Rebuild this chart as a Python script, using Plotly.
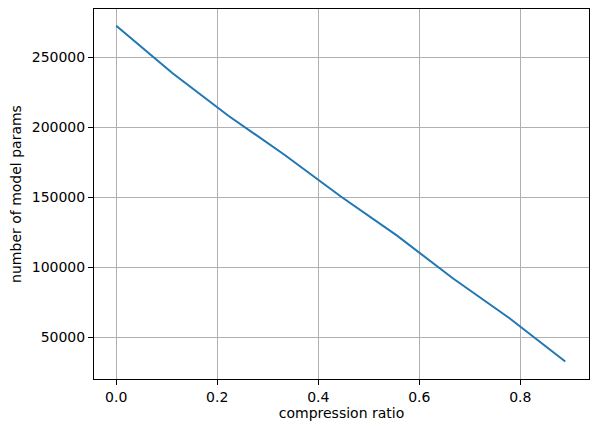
import plotly.graph_objects as go

# compression ratio steps (k/9) and the matching parameter counts
compression_ratio = [0.0, 0.111, 0.222, 0.333, 0.444, 0.556, 0.667, 0.778, 0.889]
model_params = [272500, 238800, 208200, 180300, 150600, 122500, 91800, 63600, 32500]

fig = go.Figure()
fig.add_trace(go.Scatter(x=compression_ratio, y=model_params, mode='lines',
                         line=dict(color='#1f77b4', width=2), showlegend=False))

axis_style = dict(showline=True, linecolor='black', linewidth=1, mirror=True,
                  ticks='outside', ticklen=5, tickcolor='black',
                  showgrid=True, gridcolor='#b0b0b0', gridwidth=1, zeroline=False,
                  tickfont=dict(size=14, color='black'))

fig.update_xaxes(range=[-0.044, 0.936], tickvals=[0.0, 0.2, 0.4, 0.6, 0.8],
                 ticktext=['0.0', '0.2', '0.4', '0.6', '0.8'],
                 title=dict(text='compression ratio', font=dict(size=14, color='black'), standoff=4),
                 **axis_style)
fig.update_yaxes(range=[20000, 284500], tickvals=[50000, 100000, 150000, 200000, 250000],
                 tickformat='d',
                 title=dict(text='number of model params', font=dict(size=14, color='black'), standoff=6),
                 **axis_style)

# the page body adds an 8px offset, so margins are shifted to compensate
fig.update_layout(width=598, height=432, plot_bgcolor='white', paper_bgcolor='white',
                  font=dict(family='DejaVu Sans', size=14, color='black'),
                  margin=dict(l=86, r=17, t=1, b=61))

fig.write_html("out.html")
